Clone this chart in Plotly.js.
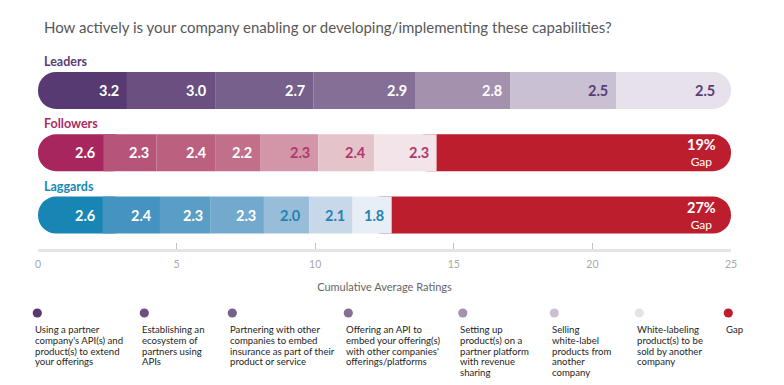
<!DOCTYPE html>
<html>
<head>
<meta charset="utf-8">
<script src="https://cdn.plot.ly/plotly-3.0.1.min.js"></script>
<style>html,body{margin:0;padding:0;background:#fff;}#chart{width:784px;height:385px;}</style>
</head>
<body>
<div id="chart"></div>
<script>
// ---- data ----
const groups = ['Leaders', 'Followers', 'Laggards'];
const ratingsLeaders = [3.2, 3.0, 2.7, 2.9, 2.8, 2.5, 2.5];
const ratingsFollowers = [2.6, 2.3, 2.4, 2.2, 2.3, 2.4, 2.3];
const ratingsLaggards = [2.6, 2.4, 2.3, 2.3, 2.0, 2.1, 1.8];
// segment lengths as drawn on the cumulative axis
const lengthsLeaders = [3.20, 3.19, 3.54, 3.67, 3.43, 3.82, 4.15];
const lengthsFollowers = [2.36, 1.92, 2.11, 1.62, 2.10, 2.01, 2.26];
const lengthsLaggards = [2.33, 2.07, 1.83, 1.92, 1.64, 1.56, 1.41];
const gapLengths = [0, 10.62, 12.24];
const gapLabels = ['', '19%', '27%'];
const capabilities = [
  "Using a partner<br>company's API(s) and<br>product(s) to extend<br>your offerings",
  "Establishing an<br>ecosystem of<br>partners using<br>APIs",
  "Partnering with other<br>companies to embed<br>insurance as part of their<br>product or service",
  "Offering an API to<br>embed your offering(s)<br>with other companies'<br>offerings/platforms",
  "Setting up<br>product(s) on a<br>partner platform<br>with revenue<br>sharing",
  "Selling<br>white-label<br>products from<br>another<br>company",
  "White-labeling<br>product(s) to be<br>sold by another<br>company",
  "Gap"
];
const xTicks = [0, 5, 10, 15, 20, 25];

// ---- styles ----
const FONT = 'Lato, "Open Sans", sans-serif';
const colors = [
  ['#563a71', '#6a4f80', '#77608b', '#856f96', '#a391ae', '#c9c0d3', '#e6e1eb'],
  ['#a8265e', '#b75479', '#bb607f', '#c27089', '#d296a8', '#e5c3cb', '#f2e4e8'],
  ['#1786b5', '#4593c0', '#5a9ec6', '#73a9cd', '#98bdd8', '#c8d8e8', '#e7eef6']
];
const gapColor = '#bd1e2e';
const groupLabelColors = ['#5b3d77', '#a92d63', '#1a87b5'];
const darkLabelColors = ['#5a3d75', '#b0386b', '#2482b5'];
const whiteCount = [5, 4, 4];

const ratings = [ratingsLeaders, ratingsFollowers, ratingsLaggards];
const lengths = [lengthsLeaders, lengthsFollowers, lengthsLaggards];
const ypos = [2, 1, 0];
const BARW = 0.594;
const TUCK = 1.0; // rounded ends are tucked under the neighbouring segment

const capTraces = [];   // pill-shaped end segments (drawn first)
const midTraces = [];   // square middle segments (drawn on top)
const annotations = [];

function barTrace(y, base, len, color, round) {
  return {
    type: 'bar', orientation: 'h', y: [y], x: [len], base: [base], width: BARW,
    marker: {color: color, cornerradius: round ? '50%' : 0, line: {width: 0}},
    hoverinfo: 'skip', showlegend: false
  };
}

groups.forEach((g, r) => {
  let start = 0;
  const segs = lengths[r];
  const hasGap = gapLengths[r] > 0;
  segs.forEach((len, i) => {
    const first = i === 0;
    const last = (i === segs.length - 1) && !hasGap;
    if (first) capTraces.push(barTrace(ypos[r], start, len + TUCK, colors[r][i], true));
    else if (last) capTraces.push(barTrace(ypos[r], start - TUCK, len + TUCK, colors[r][i], true));
    else midTraces.push(barTrace(ypos[r], start, len, colors[r][i], false));
    start += len;
    annotations.push({
      x: start, y: ypos[r], xref: 'x', yref: 'y',
      xanchor: 'right', yanchor: 'middle', xshift: last ? -14 : -6,
      text: '<b>' + ratings[r][i].toFixed(1) + '</b>', showarrow: false,
      font: {family: FONT, size: 14.5, color: i < whiteCount[r] ? '#ffffff' : darkLabelColors[r]}
    });
  });
  if (hasGap) {
    capTraces.push(barTrace(ypos[r], start - TUCK, gapLengths[r] + TUCK, gapColor, true));
    annotations.push({
      x: start + gapLengths[r], y: ypos[r], xref: 'x', yref: 'y',
      xanchor: 'right', yanchor: 'middle', xshift: -13, align: 'center',
      text: '<b><span style="font-size:14.5px">' + gapLabels[r] + '</span></b><br>Gap',
      showarrow: false,
      font: {family: FONT, size: 12, color: '#ffffff'}
    });
  }
  annotations.push({
    x: 0, y: ypos[r], xref: 'x', yref: 'y', xanchor: 'left', yanchor: 'middle',
    xshift: 4, yshift: 29, text: '<b>' + g + '</b>', showarrow: false,
    font: {family: FONT, size: 12.5, color: groupLabelColors[r]}
  });
});

// ---- custom legend ----
const W = 784, H = 385, ML = 38, MR = 53, MT = 40, MB = 136;
const PW = W - ML - MR, PH = H - MT - MB;
const px2x = p => (p - ML) / PW;
const py2y = p => (H - MB - p) / PH;
const legendX = [32.5, 139.5, 227.5, 343.5, 458, 549.5, 634.5, 723.5];
const legendColors = colors[0].concat([gapColor]);
const shapes = [];
capabilities.forEach((label, k) => {
  shapes.push({
    type: 'circle', xref: 'paper', yref: 'paper',
    xsizemode: 'pixel', ysizemode: 'pixel',
    xanchor: px2x(legendX[k] + 4.8), yanchor: py2y(313),
    x0: -4.6, x1: 4.6, y0: -4.6, y1: 4.6,
    fillcolor: legendColors[k], line: {width: 0}
  });
  label.split('<br>').forEach((line, j) => {
    annotations.push({
      xref: 'paper', yref: 'paper', x: px2x(legendX[k]), y: py2y(329.5 + j * 10.75),
      xanchor: 'left', yanchor: 'middle', text: line, showarrow: false,
      font: {family: FONT, size: 9.6, color: '#1e1e1e'}
    });
  });
});

const layout = {
  width: W, height: H,
  margin: {l: ML, r: MR, t: MT, b: MB, pad: 0},
  paper_bgcolor: '#ffffff', plot_bgcolor: '#ffffff',
  barmode: 'overlay',
  showlegend: false,
  title: {
    text: 'How actively is your company enabling or developing/implementing these capabilities?',
    x: 44 / W, xref: 'container', xanchor: 'left',
    y: 1 - 28 / H, yref: 'container', yanchor: 'middle',
    font: {family: FONT, size: 15, color: '#585858'}
  },
  xaxis: {
    range: [0, 25], tickvals: xTicks, ticktext: xTicks.map(String),
    showgrid: false, zeroline: false,
    showline: true, linecolor: '#e6e4e5', linewidth: 3,
    ticks: 'inside', ticklen: 6, tickwidth: 1, tickcolor: '#c9b9c0',
    ticklabelstandoff: 3,
    tickfont: {family: FONT, size: 10.5, color: '#a8a8a8'},
    title: {text: 'Cumulative Average Ratings', standoff: 15,
            font: {family: FONT, size: 11, color: '#666666'}},
    fixedrange: true
  },
  yaxis: {
    range: [-0.546, 2.811], showgrid: false, zeroline: false, showline: false,
    showticklabels: false, ticks: '', fixedrange: true
  },
  annotations: annotations,
  shapes: shapes
};

Plotly.newPlot('chart', capTraces.concat(midTraces), layout, {displayModeBar: false, staticPlot: true});
</script>
</body>
</html>
